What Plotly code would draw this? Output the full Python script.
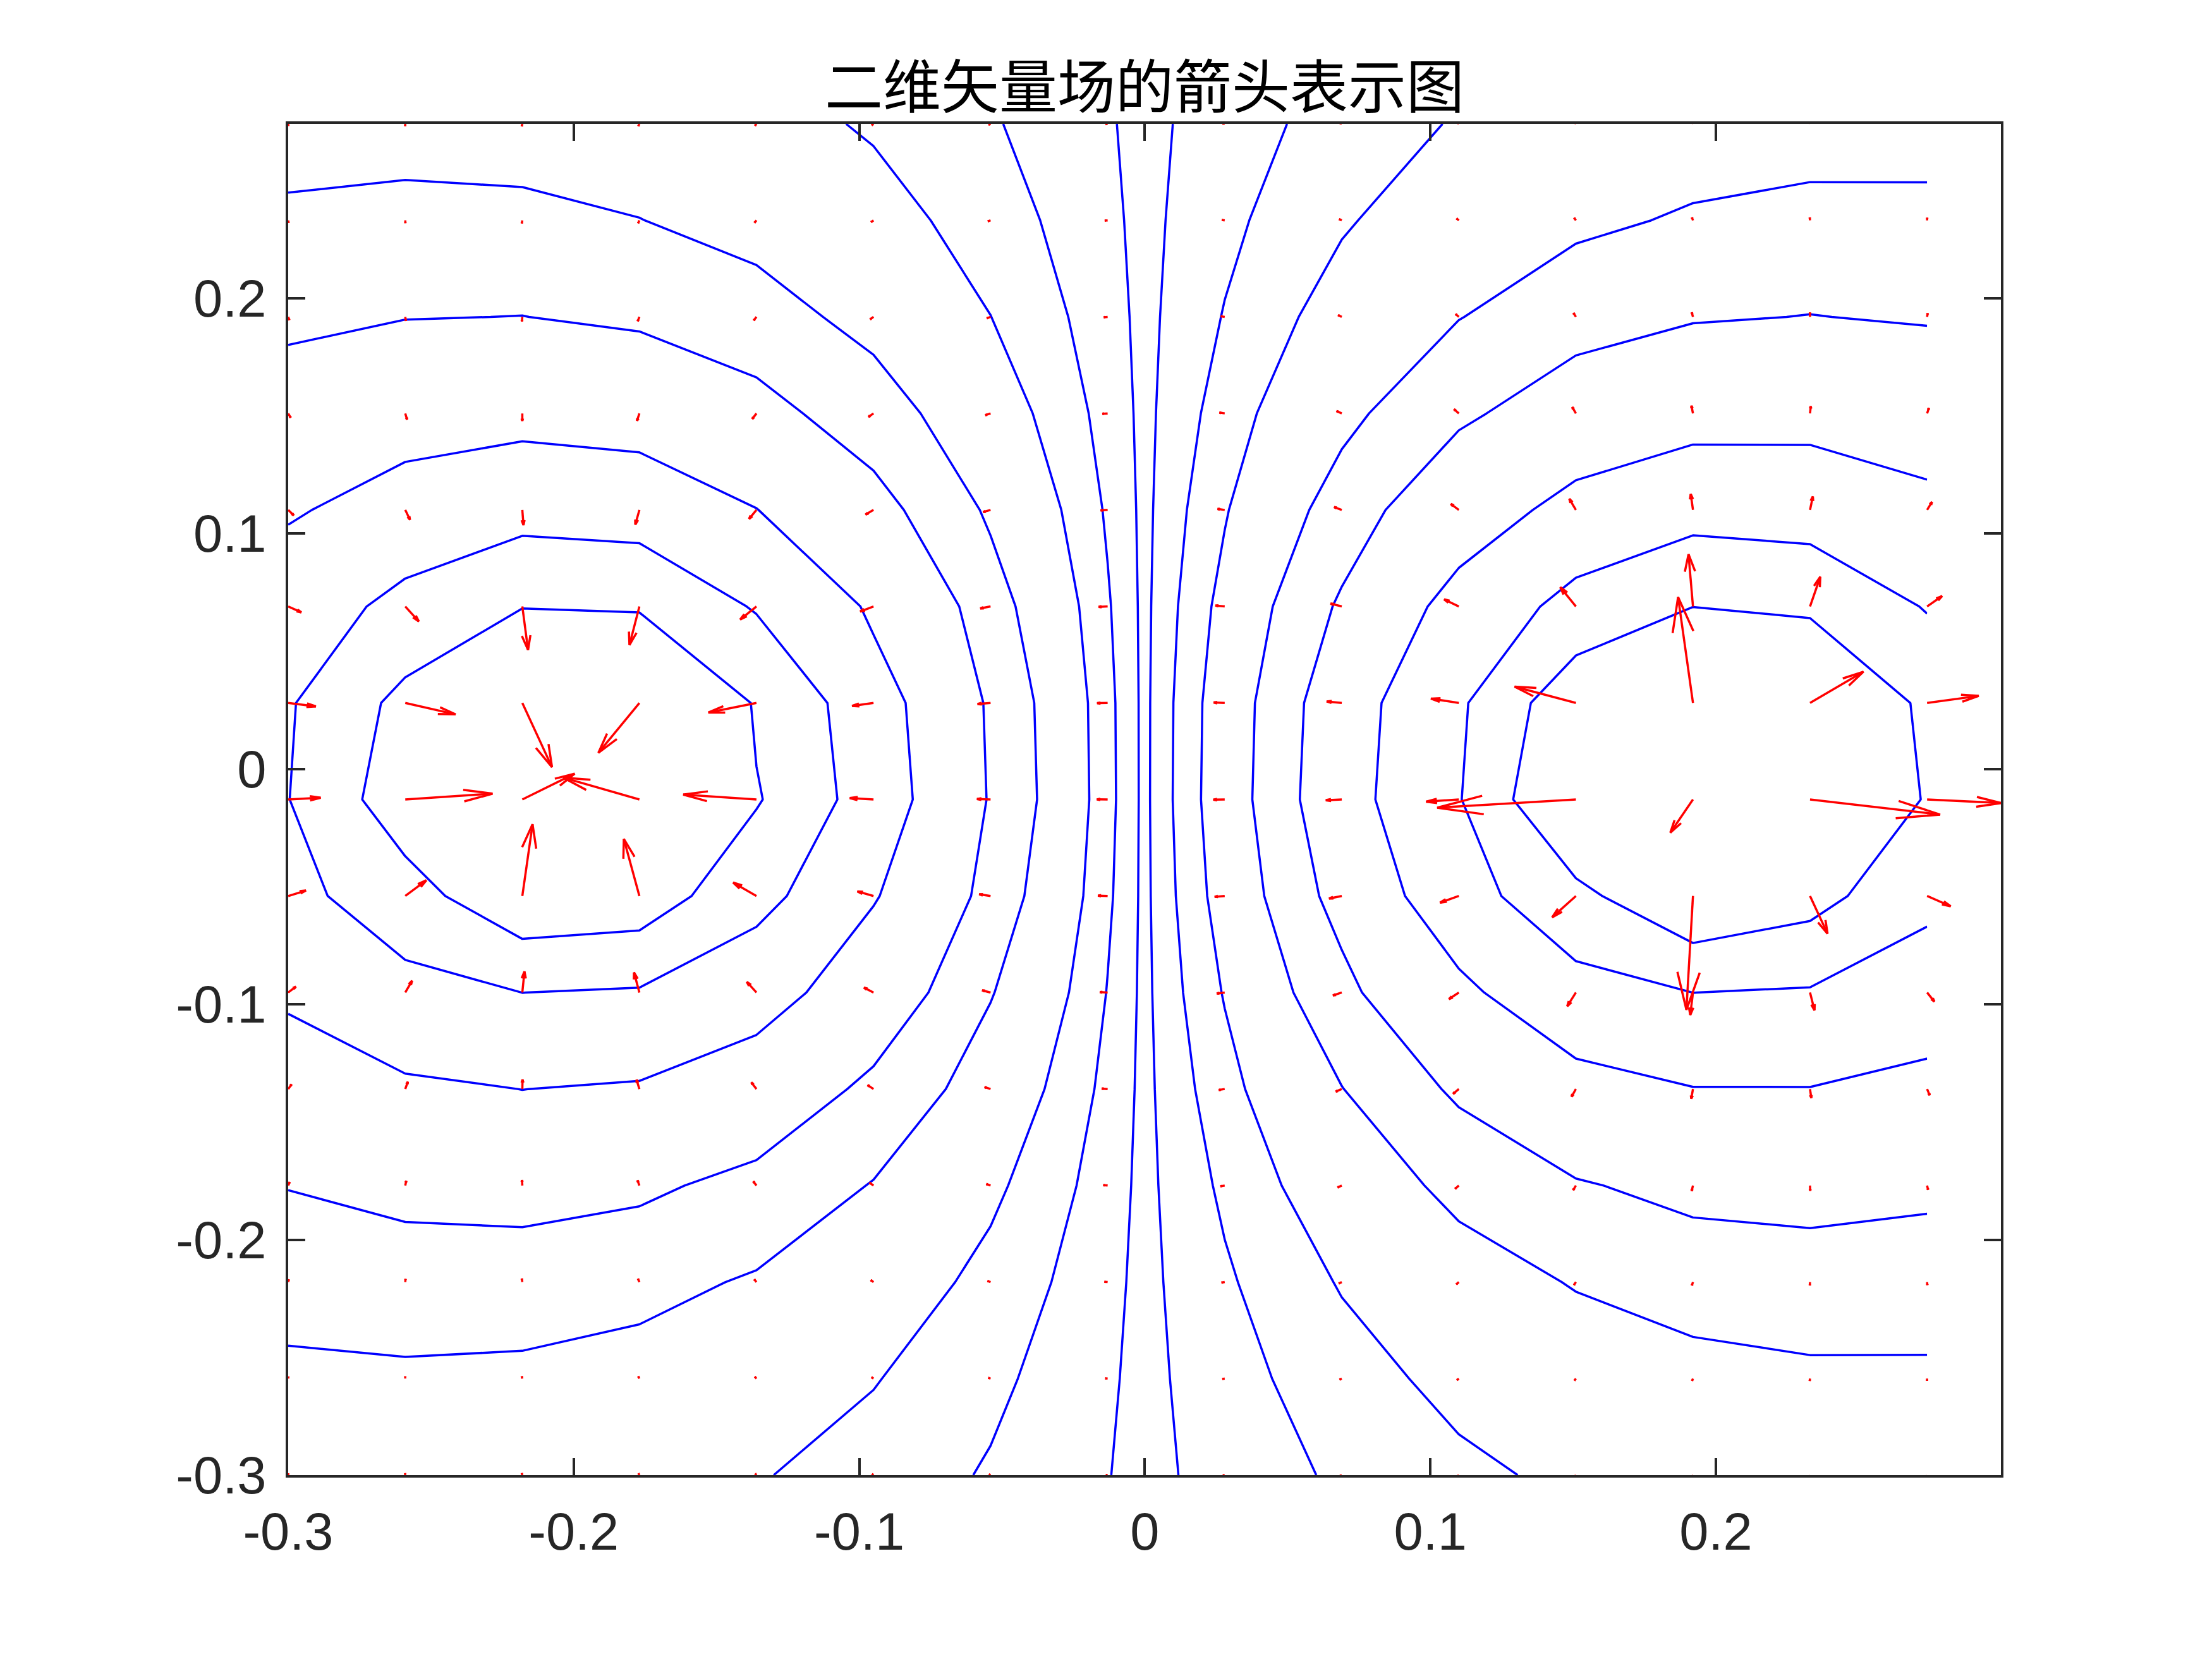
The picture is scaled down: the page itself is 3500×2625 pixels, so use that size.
import numpy as np
import plotly.graph_objects as go

# ---- data ----
grid_x = [-0.3, -0.259, -0.218, -0.177, -0.136, -0.095, -0.054, -0.013,
          0.028, 0.069, 0.110, 0.151, 0.192, 0.233, 0.274]
grid_y = [-0.3, -0.259, -0.218, -0.177, -0.136, -0.095, -0.054, -0.013,
          0.028, 0.069, 0.110, 0.151, 0.192, 0.233, 0.274]
charge_x = [-0.2, 0.2]
charge_y = [0.0, 0.0]
charge_q = [-1.0, 1.0]
contour_levels = [-12, -8, -5, -3, -2, -1, -0.5, -0.1,
                  0.1, 0.5, 1, 2, 3, 5, 8, 12]
x_tick_vals = [-0.3, -0.2, -0.1, 0, 0.1, 0.2]
x_tick_text = ["-0.3", "-0.2", "-0.1", "0", "0.1", "0.2"]
y_tick_vals = [-0.3, -0.2, -0.1, 0, 0.1, 0.2]
y_tick_text = ["-0.3", "-0.2", "-0.1", "0", "0.1", "0.2"]
title_text = "二维矢量场的箭头表示图"

# ---- potential of the two point charges on the grid ----
X, Y = np.meshgrid(np.array(grid_x), np.array(grid_y))
V = np.zeros_like(X)
for cx, cy, q in zip(charge_x, charge_y, charge_q):
    V += q / np.hypot(X - cx, Y - cy)

# field = -gradient (one-sided at edges, like MATLAB gradient)
dVdy, dVdx = np.gradient(V)
U = -dVdx
W = -dVdy

# MATLAB quiver autoscale
m_rows, n_cols = X.shape
delx = (X.max() - X.min()) / n_cols
dely = (Y.max() - Y.min()) / m_rows
dl = delx ** 2 + dely ** 2
lens = np.sqrt((U ** 2 + W ** 2) / dl)
sc = 0.9 / lens.max()
U = U * sc
W = W * sc

alpha, beta = 0.33, 0.245
ax_, ay_ = [], []
for x0, y0, u, v in zip(X.ravel(), Y.ravel(), U.ravel(), W.ravel()):
    ax_ += [x0, x0 + u, None]
    ay_ += [y0, y0 + v, None]
    tx, ty = x0 + u, y0 + v
    ax_ += [tx - alpha * (u + beta * v), tx, tx - alpha * (u - beta * v), None]
    ay_ += [ty - alpha * (v - beta * u), ty, ty - alpha * (v + beta * u), None]

fig = go.Figure()
for lev in contour_levels:
    fig.add_trace(go.Contour(
        x=grid_x, y=grid_y, z=V.tolist(),
        autocontour=False,
        contours=dict(start=lev, end=lev, size=1, coloring="lines",
                      showlabels=False),
        colorscale=[[0, "rgb(0,0,255)"], [1, "rgb(0,0,255)"]],
        line=dict(width=3.5, smoothing=0),
        showscale=False, hoverinfo="skip"))

fig.add_trace(go.Scatter(x=ax_, y=ay_, mode="lines",
                         line=dict(color="rgb(255,0,0)", width=3.5),
                         hoverinfo="skip", showlegend=False))

xr = [min(X.min(), (X + U).min()), max(X.max(), (X + U).max())]
yr = [Y.min(), Y.max()]

axis_common = dict(showline=True, linecolor="#262626", linewidth=4,
                   mirror="ticks", ticks="inside", ticklen=27, tickwidth=3.6,
                   tickcolor="#262626", showgrid=False, zeroline=False,
                   tickfont=dict(family="Liberation Sans, Arial", size=83,
                                 color="#262626"))

fig.update_layout(
    width=3500, height=2625,
    paper_bgcolor="white", plot_bgcolor="white",
    margin=dict(l=448, r=342, t=188, b=299),
    showlegend=False,
    title=dict(text=title_text, x=0.5, xref="paper", xanchor="center",
               y=1 - 131 / 2625, yref="container", yanchor="middle",
               font=dict(family="Noto Sans CJK SC", size=92, color="black")),
    xaxis=dict(range=xr, tickvals=x_tick_vals, ticktext=x_tick_text,
               ticklabelstandoff=14, **axis_common),
    yaxis=dict(range=yr, tickvals=y_tick_vals, ticktext=y_tick_text,
               ticklabelstandoff=14, **axis_common),
)

fig.write_html("out.html")
